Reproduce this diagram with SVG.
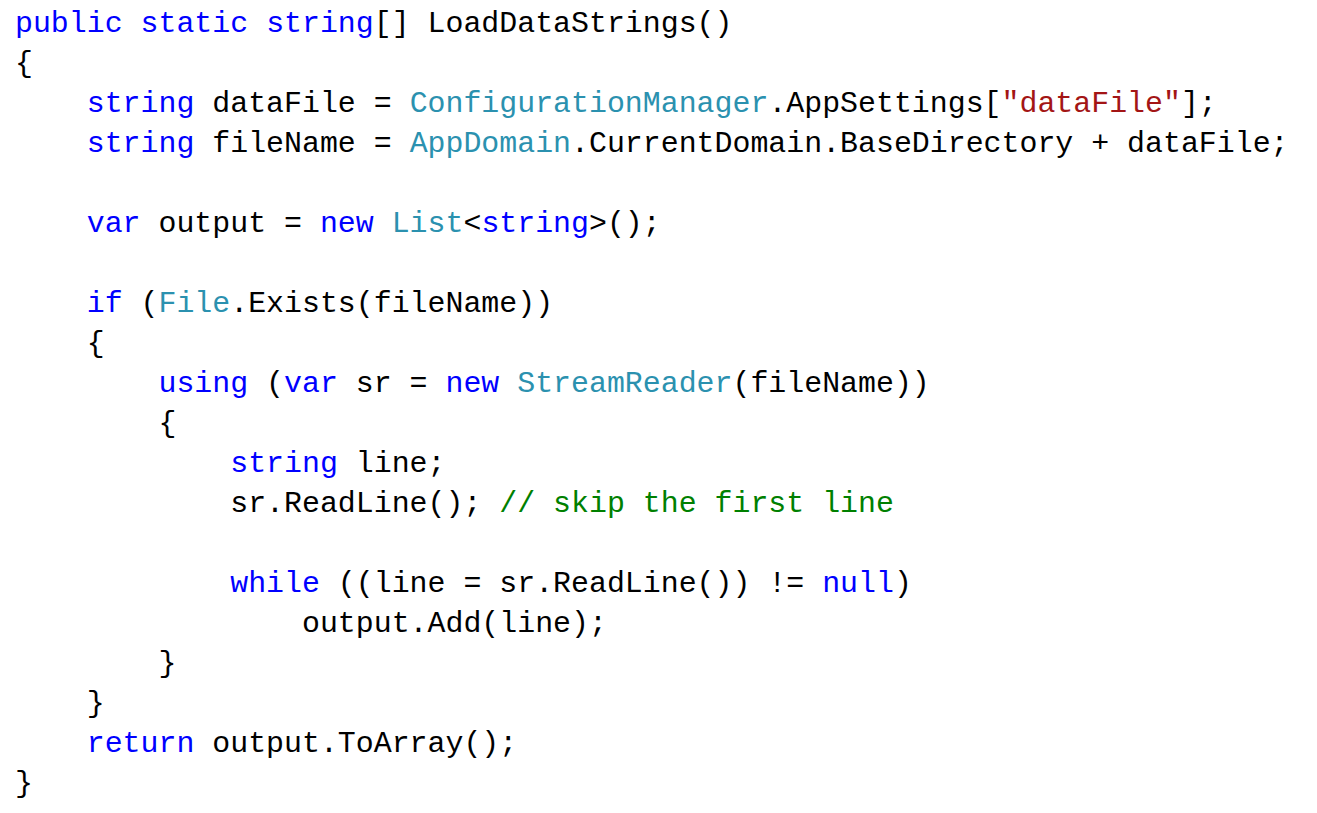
<svg xmlns="http://www.w3.org/2000/svg" width="1317" height="813" viewBox="0 0 1317 813">
<style>
text{font-family:"Liberation Mono","DejaVu Sans Mono",monospace;font-size:29.9px;fill:#000;white-space:pre}
.k{fill:#0000ff}.t{fill:#2b91af}.s{fill:#a31515}.c{fill:#008000}
</style>
<rect width="1317" height="813" fill="#fff"/>
<g id="code" xml:space="preserve">
<text x="15" y="32"><tspan class="k">public</tspan> <tspan class="k">static</tspan> <tspan class="k">string</tspan>[] LoadDataStrings()</text>
<text x="15" y="72">{</text>
<text x="15" y="112">    <tspan class="k">string</tspan> dataFile = <tspan class="t">ConfigurationManager</tspan>.AppSettings[<tspan class="s">"dataFile"</tspan>];</text>
<text x="15" y="152">    <tspan class="k">string</tspan> fileName = <tspan class="t">AppDomain</tspan>.CurrentDomain.BaseDirectory + dataFile;</text>
<text x="15" y="232">    <tspan class="k">var</tspan> output = <tspan class="k">new</tspan> <tspan class="t">List</tspan>&lt;<tspan class="k">string</tspan>&gt;();</text>
<text x="15" y="312">    <tspan class="k">if</tspan> (<tspan class="t">File</tspan>.Exists(fileName))</text>
<text x="15" y="352">    {</text>
<text x="15" y="392">        <tspan class="k">using</tspan> (<tspan class="k">var</tspan> sr = <tspan class="k">new</tspan> <tspan class="t">StreamReader</tspan>(fileName))</text>
<text x="15" y="432">        {</text>
<text x="15" y="472">            <tspan class="k">string</tspan> line;</text>
<text x="15" y="512">            sr.ReadLine(); <tspan class="c">// skip the first line</tspan></text>
<text x="15" y="592">            <tspan class="k">while</tspan> ((line = sr.ReadLine()) != <tspan class="k">null</tspan>)</text>
<text x="15" y="632">                output.Add(line);</text>
<text x="15" y="672">        }</text>
<text x="15" y="712">    }</text>
<text x="15" y="752">    <tspan class="k">return</tspan> output.ToArray();</text>
<text x="15" y="792">}</text>
</g>
</svg>
